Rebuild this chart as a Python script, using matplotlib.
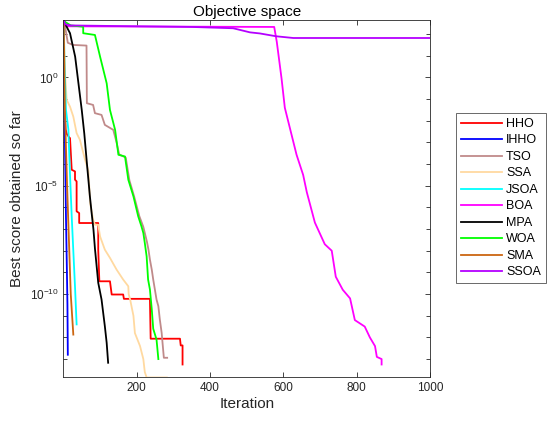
import numpy as np
import matplotlib
matplotlib.use('Agg')
import matplotlib.pyplot as plt
from matplotlib.ticker import NullFormatter, FixedLocator

plt.rcParams['font.family'] = ['Liberation Sans', 'DejaVu Sans']
plt.rcParams['axes.unicode_minus'] = False

# convergence curves: iteration, log10(best score)
hho_x = [1, 2, 4, 6, 9, 17, 18, 22.6, 31.6, 31.6, 36, 36, 43, 43, 95, 95, 98, 127, 131.7, 163, 165, 236, 238, 318, 320, 325, 325]
hho_e = [2.6, 0.5, -1.5, -2.4, -2.6, -2.8, -2.8, -4.26, -4.34, -4.72, -4.8, -6.18, -6.26, -6.72, -6.72, -7.95, -9.41, -9.41, -10.02, -10.02, -10.22, -10.22, -12.06, -12.06, -12.37, -12.37, -13.25]

ihho_x = [1, 2, 3, 5, 7, 9, 11, 12]
ihho_e = [2.6, 0.5, -1.5, -4.0, -6.5, -8.4, -10.5, -12.8]

tso_x = [1, 5, 12, 26, 63, 64, 81, 86, 104, 113, 136, 145, 152, 170, 180, 193, 207, 218, 228, 232, 236, 241, 245, 254, 259, 263, 268, 272, 274, 283]
tso_e = [2.62, 2.3, 1.6, 1.5, 1.47, -1.19, -1.27, -1.65, -1.73, -2.19, -2.42, -3.0, -3.55, -3.7, -4.75, -5.5, -6.4, -6.9, -7.6, -7.95, -8.41, -8.87, -9.33, -10.25, -10.56, -11.17, -11.79, -12.56, -12.94, -12.94]

ssa_x = [1, 2, 5, 9, 18, 27, 36, 45, 59, 68, 73, 81, 86, 95, 100, 113, 127, 145, 163, 177, 178, 182, 191, 195, 209, 218, 222, 227, 282]
ssa_e = [2.6, 1.5, 0.0, -1.04, -1.35, -1.81, -2.57, -2.88, -3.8, -4.3, -5.8, -6.57, -6.8, -6.8, -7.34, -7.95, -8.33, -8.87, -9.33, -9.64, -10.0, -10.25, -11.0, -11.8, -12.4, -13.0, -13.6, -13.85, -13.85]

jsoa_x = [1, 3, 7, 13.5, 18, 22.6, 27, 32, 36]
jsoa_e = [2.6, 0.5, -1.5, -2.4, -4.5, -6.4, -8.0, -9.8, -11.4]

boa_x = [1, 3, 10, 575, 582, 595, 604, 627, 636, 654, 664, 686, 713, 732, 743, 762, 782, 795, 822, 836, 850, 855, 868, 868]
boa_e = [2.6, 2.4, 2.36, 2.33, 1.65, -0.04, -1.4, -2.96, -3.57, -4.5, -5.3, -6.7, -7.7, -8.0, -9.2, -9.8, -10.2, -11.2, -11.5, -12.0, -12.4, -12.9, -13.0, -13.25]

mpa_x = [1, 4, 18, 32, 41, 50, 57, 64, 72, 77, 82, 86, 95, 104, 113, 118, 122]
mpa_e = [2.62, 2.5, 2.04, 0.96, -0.27, -1.5, -2.6, -3.95, -5.45, -6.26, -7.03, -7.9, -9.48, -10.25, -11.48, -12.25, -13.17]

woa_x = [1, 20, 54, 54, 86, 100, 118, 127, 141, 150, 168, 177, 191, 204, 213, 218, 222, 227, 231, 236, 241, 245, 254, 259]
woa_e = [2.6, 2.4, 2.34, 2.04, 1.96, 0.96, -0.27, -1.5, -2.42, -3.57, -3.65, -4.72, -5.49, -6.41, -6.88, -7.18, -7.64, -8.26, -9.33, -9.79, -10.7, -11.6, -12.1, -13.0]

sma_x = [1, 2, 4, 10, 16, 20, 27]
sma_e = [2.6, 1.0, -1.5, -5.0, -8.0, -10.0, -11.87]

ssoa_x = [1, 5, 20, 150, 350, 463, 509, 536, 580, 627, 1000]
ssoa_e = [2.62, 2.45, 2.4, 2.37, 2.33, 2.27, 2.08, 2.03, 1.9, 1.82, 1.82]

names = ['HHO', 'IHHO', 'TSO', 'SSA', 'JSOA', 'BOA', 'MPA', 'WOA', 'SMA', 'SSOA']
colors = ['#ff0000', '#0000ff', '#c08a8a', '#ffd9a0', '#00ffff',
          '#ff00ff', '#000000', '#00ff00', '#cc6611', '#b400ff']
curves = [(hho_x, hho_e), (ihho_x, ihho_e), (tso_x, tso_e), (ssa_x, ssa_e),
          (jsoa_x, jsoa_e), (boa_x, boa_e), (mpa_x, mpa_e), (woa_x, woa_e),
          (sma_x, sma_e), (ssoa_x, ssoa_e)]

fig = plt.figure(figsize=(5.5, 4.24), dpi=100)
ax = fig.add_axes([0.1153, 0.1097, 0.6665, 0.8431])

for (xs, es), c, n in zip(curves, colors, names):
    ax.semilogy(xs, np.power(10.0, es), color=c, lw=1.3, label=n)

ax.set_xlim(0, 1000)
ax.set_ylim(10 ** -13.85, 10 ** 2.65)
ax.set_xticks([200, 400, 600, 800, 1000])
ax.yaxis.set_major_locator(FixedLocator([1e-10, 1e-5, 1e0]))
ax.yaxis.set_minor_locator(FixedLocator([10.0 ** k for k in range(-13, 3)]))
ax.yaxis.set_minor_formatter(NullFormatter())

dark = '#262626'
for s in ax.spines.values():
    s.set_color(dark)
    s.set_linewidth(0.6)
ax.tick_params(which='both', direction='in', top=True, right=True, colors=dark,
               labelsize=8.5, width=0.6)
ax.tick_params(which='major', length=3.5)
ax.tick_params(which='minor', length=3.0)

ax.set_title('Objective space', fontsize=11, color='black', pad=3)
ax.set_xlabel('Iteration', fontsize=11, color=dark, labelpad=2)
ax.set_ylabel('Best score obtained so far', fontsize=11, color=dark, labelpad=4)

leg = ax.legend(loc='upper left', bbox_to_anchor=(0.829, 0.7335),
                bbox_transform=fig.transFigure, fontsize=9, frameon=True,
                fancybox=False, handlelength=3.3, handletextpad=0.3,
                labelspacing=0.36, borderpad=0.4, borderaxespad=0)
leg.get_frame().set_edgecolor(dark)
leg.get_frame().set_linewidth(0.6)

fig.savefig('out.png', dpi=100)
